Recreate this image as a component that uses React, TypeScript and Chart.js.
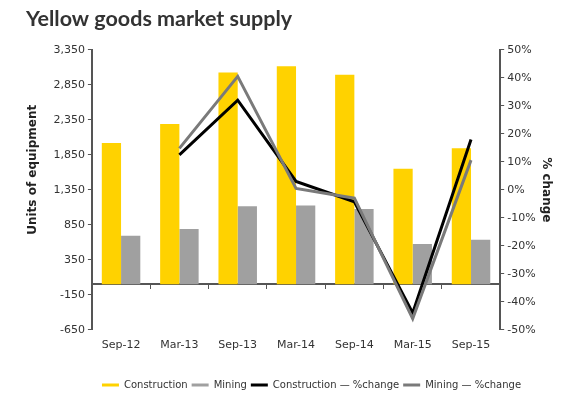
import React, { useEffect, useRef } from "react";
import { Chart, registerables } from "chart.js";

Chart.register(...registerables);

const categories = ["Sep-12", "Mar-13", "Sep-13", "Mar-14", "Sep-14", "Mar-15", "Sep-15"];
const constructionUnits = [2020, 2290, 3025, 3115, 2995, 1650, 1945];
const miningUnits = [695, 790, 1115, 1125, 1075, 575, 635];
const constructionPct = [null, 12.5, 32, 3, -4.3, -44, 18];
const miningPct = [null, 14.8, 40.5, 0.5, -3, -46, 10.6];
const unitTicks = [-650, -150, 350, 850, 1350, 1850, 2350, 2850, 3350];
const pctTicks = [-50, -40, -30, -20, -10, 0, 10, 20, 30, 40, 50];
const leftTitle = "Units of equipment";

const YELLOW = "#FFD200";
const GREY_BAR = "#A0A0A0";
const BLACK = "#000000";
const GREY_LINE = "#7A7A7A";
const AXIS = "#555555";
const TEXT = "#333333";
const TICK_FONT = { family: "'DejaVu Sans', sans-serif", size: 11 };
const AXIS_TITLE_FONT = { family: "'DejaVu Sans', sans-serif", size: 12, weight: "bold" as const };

// Shifts the legend row and draws the left axis title slightly above centre, as in the reference.
const tweaks = {
  id: "tweaks",
  afterLayout(chart: any) {
    const lg = chart.legend;
    if (lg) {
      lg.left += 18;
      lg.right += 18;
    }
  },
  afterDraw(chart: any) {
    const s = chart.scales.y;
    const ctx = chart.ctx;
    ctx.save();
    ctx.font = "bold 12px 'DejaVu Sans', sans-serif";
    ctx.fillStyle = "#222";
    ctx.textAlign = "center";
    ctx.textBaseline = "middle";
    ctx.translate(s.left + 7.2, (s.top + s.bottom) / 2 - 20);
    ctx.rotate(-Math.PI / 2);
    ctx.fillText(leftTitle, 0, 0);
    ctx.restore();
  },
};

export default function App() {
  const ref = useRef<HTMLCanvasElement>(null);
  useEffect(() => {
    if (!ref.current) return;
    const legendColors = [YELLOW, GREY_BAR, BLACK, GREY_LINE];
    const chart = new Chart(ref.current, {
      type: "bar",
      data: {
        labels: categories,
        datasets: [
          { type: "bar", label: "Construction", data: constructionUnits, backgroundColor: YELLOW, borderWidth: 0, yAxisID: "y", xAxisID: "x", order: 3, categoryPercentage: 0.66, barPercentage: 1 },
          { type: "bar", label: "Mining", data: miningUnits, backgroundColor: GREY_BAR, borderWidth: 0, yAxisID: "y", xAxisID: "x", order: 3, categoryPercentage: 0.66, barPercentage: 1 },
          { type: "line", label: "Construction \u2014 %change", data: constructionPct as any, borderColor: BLACK, backgroundColor: BLACK, borderWidth: 3, pointRadius: 0, tension: 0, yAxisID: "y1", xAxisID: "x", order: 1 },
          { type: "line", label: "Mining \u2014 %change", data: miningPct as any, borderColor: GREY_LINE, backgroundColor: GREY_LINE, borderWidth: 3, pointRadius: 0, tension: 0, yAxisID: "y1", xAxisID: "x", order: 0 },
        ],
      },
      options: {
        responsive: false,
        animation: false,
        layout: { padding: { left: 26, right: 4, top: 0, bottom: 1 } },
        plugins: {
          tooltip: { enabled: false },
          title: {
            display: true,
            text: "Yellow goods market supply",
            align: "start",
            color: TEXT,
            font: { family: "Lato, sans-serif", size: 21.5, weight: "bold" },
            padding: { top: 6, bottom: 18 },
          },
          legend: {
            position: "bottom",
            labels: {
              color: TEXT,
              font: { family: "'DejaVu Sans', sans-serif", size: 10 },
              boxWidth: 17,
              boxHeight: 3,
              padding: 4,
              sort: (a: any, b: any) => a.datasetIndex - b.datasetIndex,
              generateLabels: (c: any) =>
                Chart.defaults.plugins.legend.labels.generateLabels(c).map((l: any) => ({
                  ...l,
                  fillStyle: legendColors[l.datasetIndex],
                  strokeStyle: legendColors[l.datasetIndex],
                  lineWidth: 0,
                })),
            },
          },
        },
        scales: {
          x: {
            type: "category",
            position: "bottom",
            grid: { display: false, drawTicks: false },
            border: { display: false },
            ticks: { color: TEXT, font: TICK_FONT, padding: 9, maxRotation: 0 },
            afterFit: (s: any) => {
              s.height += 15;
            },
          },
          x2: {
            type: "category",
            position: { y: 0 } as any,
            offset: true,
            grid: { offset: true, drawOnChartArea: false, color: AXIS, lineWidth: 1, tickLength: 4 },
            border: { color: AXIS, width: 2 },
            ticks: { display: false },
          },
          y: {
            type: "linear",
            position: "left",
            min: -650,
            max: 3350,
            afterBuildTicks: (s: any) => {
              s.ticks = unitTicks.map((v) => ({ value: v }));
            },
            grid: { drawOnChartArea: false, color: AXIS, tickLength: 4 },
            border: { color: AXIS, width: 2 },
            ticks: { color: TEXT, font: TICK_FONT, padding: 3, callback: (v: any) => Number(v).toLocaleString("en-US") },
            title: { display: true, text: leftTitle, color: "rgba(0,0,0,0)", font: AXIS_TITLE_FONT, padding: { top: 0, bottom: 10 } },
          },
          y1: {
            type: "linear",
            position: "right",
            min: -50,
            max: 50,
            afterBuildTicks: (s: any) => {
              s.ticks = pctTicks.map((v) => ({ value: v }));
            },
            grid: { drawOnChartArea: false, color: AXIS, tickLength: 4 },
            border: { color: AXIS, width: 2 },
            ticks: { color: TEXT, font: TICK_FONT, padding: 3, callback: (v: any) => v + "%" },
            title: { display: true, text: "% change", color: "#222", font: AXIS_TITLE_FONT, padding: { top: 8, bottom: 0 } },
          },
        },
      },
      plugins: [tweaks],
    });
    return () => chart.destroy();
  }, []);
  return (
    <div style={{ position: "fixed", left: 0, top: 0, width: 565, height: 401, background: "#fff" }}>
      <canvas ref={ref} width={565} height={401} />
    </div>
  );
}
